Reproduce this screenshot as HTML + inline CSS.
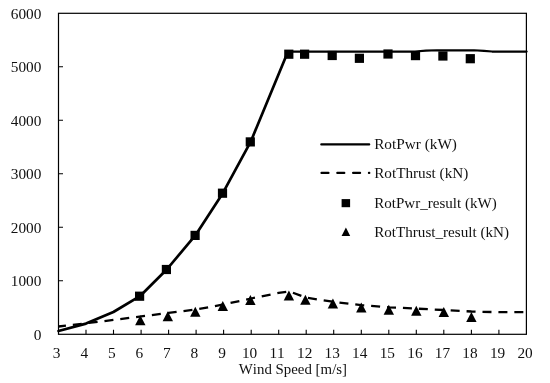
<!DOCTYPE html>
<html><head><meta charset="utf-8"><title>Chart</title>
<style>
html,body{margin:0;padding:0;background:#fff;}
svg{display:block;}
text{font-family:"Liberation Serif","Times New Roman",serif;font-size:14.3px;fill:#111;font-kerning:none;}
</style></head><body>
<svg width="550" height="383" viewBox="0 0 550 383">
<rect width="550" height="383" fill="#fff"/>
<rect x="58.5" y="13.3" width="467.9" height="321.0" fill="none" stroke="#000" stroke-width="1.2"/>
<path d="M86.0,334.3 v-4.5 M113.5,334.3 v-4.5 M141.1,334.3 v-4.5 M168.6,334.3 v-4.5 M196.1,334.3 v-4.5 M223.6,334.3 v-4.5 M251.2,334.3 v-4.5 M278.7,334.3 v-4.5 M306.2,334.3 v-4.5 M333.7,334.3 v-4.5 M361.3,334.3 v-4.5 M388.8,334.3 v-4.5 M416.3,334.3 v-4.5 M443.8,334.3 v-4.5 M471.4,334.3 v-4.5 M498.9,334.3 v-4.5 M58.5,280.8 h4.5 M58.5,227.3 h4.5 M58.5,173.8 h4.5 M58.5,120.3 h4.5 M58.5,66.8 h4.5" stroke="#000" stroke-width="1.1" fill="none"/>
<g>
<text x="52.88" y="357.7" textLength="7.7" lengthAdjust="spacingAndGlyphs">3</text>
<text x="80.43" y="357.7" textLength="7.7" lengthAdjust="spacingAndGlyphs">4</text>
<text x="107.98" y="357.7" textLength="7.7" lengthAdjust="spacingAndGlyphs">5</text>
<text x="135.53" y="357.7" textLength="7.7" lengthAdjust="spacingAndGlyphs">6</text>
<text x="163.09" y="357.7" textLength="7.7" lengthAdjust="spacingAndGlyphs">7</text>
<text x="190.64" y="357.7" textLength="7.7" lengthAdjust="spacingAndGlyphs">8</text>
<text x="218.19" y="357.7" textLength="7.7" lengthAdjust="spacingAndGlyphs">9</text>
<text x="241.92" y="357.7" textLength="15.3" lengthAdjust="spacingAndGlyphs">10</text>
<text x="269.47" y="357.7" textLength="15.3" lengthAdjust="spacingAndGlyphs">11</text>
<text x="297.03" y="357.7" textLength="15.3" lengthAdjust="spacingAndGlyphs">12</text>
<text x="324.58" y="357.7" textLength="15.3" lengthAdjust="spacingAndGlyphs">13</text>
<text x="352.13" y="357.7" textLength="15.3" lengthAdjust="spacingAndGlyphs">14</text>
<text x="379.69" y="357.7" textLength="15.3" lengthAdjust="spacingAndGlyphs">15</text>
<text x="407.24" y="357.7" textLength="15.3" lengthAdjust="spacingAndGlyphs">16</text>
<text x="434.79" y="357.7" textLength="15.3" lengthAdjust="spacingAndGlyphs">17</text>
<text x="462.34" y="357.7" textLength="15.3" lengthAdjust="spacingAndGlyphs">18</text>
<text x="489.90" y="357.7" textLength="15.3" lengthAdjust="spacingAndGlyphs">19</text>
<text x="517.45" y="357.7" textLength="15.3" lengthAdjust="spacingAndGlyphs">20</text>
</g>
<g>
<text x="33.75" y="339.6" textLength="7.7" lengthAdjust="spacingAndGlyphs">0</text>
<text x="10.80" y="286.1" textLength="30.6" lengthAdjust="spacingAndGlyphs">1000</text>
<text x="10.80" y="232.6" textLength="30.6" lengthAdjust="spacingAndGlyphs">2000</text>
<text x="10.80" y="179.1" textLength="30.6" lengthAdjust="spacingAndGlyphs">3000</text>
<text x="10.80" y="125.6" textLength="30.6" lengthAdjust="spacingAndGlyphs">4000</text>
<text x="10.80" y="72.1" textLength="30.6" lengthAdjust="spacingAndGlyphs">5000</text>
<text x="10.80" y="18.6" textLength="30.6" lengthAdjust="spacingAndGlyphs">6000</text>
</g>
<text x="238.80" y="373.7" textLength="108.2" lengthAdjust="spacingAndGlyphs">Wind Speed [m/s]</text>
<polyline points="58.5,326.5 86.0,323.3 113.5,319.9 141.1,316.4 168.6,312.9 196.1,309.5 223.6,304.4 251.2,298.5 278.7,292.9 289.7,291.5 306.2,297.7 333.7,301.9 361.3,305.2 388.8,307.3 416.3,308.6 443.8,310.0 471.4,311.5 498.9,312.2 526.4,312.2" fill="none" stroke="#000" stroke-width="2.3" stroke-dasharray="9 6.93" stroke-dashoffset="1.5"/>
<polyline points="58.5,331.0 86,323.6 113.4,312.0 139.9,296.2 166.7,269.5 195.3,235.4 222.8,193.2 250.6,141.9 288.0,51.5" fill="none" stroke="#000" stroke-width="2.7" stroke-linejoin="round" stroke-linecap="round"/>
<polyline points="288.0,51.5 415,51.5 426,50.7 437,50.25 474,50.25 484,50.9 492,51.5 526.6,51.5" fill="none" stroke="#000" stroke-width="2.25" stroke-linejoin="round" stroke-linecap="round"/>
<rect x="135.0" y="291.6" width="9.2" height="9.2" fill="#000"/>
<rect x="161.8" y="264.9" width="9.2" height="9.2" fill="#000"/>
<rect x="190.5" y="230.8" width="9.2" height="9.2" fill="#000"/>
<rect x="217.9" y="188.6" width="9.2" height="9.2" fill="#000"/>
<rect x="245.7" y="137.3" width="9.2" height="9.2" fill="#000"/>
<rect x="284.2" y="49.6" width="9.2" height="9.2" fill="#000"/>
<rect x="300.0" y="49.6" width="9.2" height="9.2" fill="#000"/>
<rect x="327.6" y="50.9" width="9.2" height="9.2" fill="#000"/>
<rect x="354.8" y="53.7" width="9.2" height="9.2" fill="#000"/>
<rect x="383.4" y="49.4" width="9.2" height="9.2" fill="#000"/>
<rect x="410.9" y="51.0" width="9.2" height="9.2" fill="#000"/>
<rect x="438.3" y="51.4" width="9.2" height="9.2" fill="#000"/>
<rect x="465.7" y="54.1" width="9.2" height="9.2" fill="#000"/>
<path d="M140.3,315.3 l5.2,10 h-10.4 z" fill="#000"/>
<path d="M167.8,311.2 l5.2,10 h-10.4 z" fill="#000"/>
<path d="M195.3,306.8 l5.2,10 h-10.4 z" fill="#000"/>
<path d="M222.8,301.0 l5.2,10 h-10.4 z" fill="#000"/>
<path d="M250.4,295.0 l5.2,10 h-10.4 z" fill="#000"/>
<path d="M288.9,290.6 l5.2,10 h-10.4 z" fill="#000"/>
<path d="M305.4,294.7 l5.2,10 h-10.4 z" fill="#000"/>
<path d="M332.9,298.5 l5.2,10 h-10.4 z" fill="#000"/>
<path d="M361.3,302.4 l5.2,10 h-10.4 z" fill="#000"/>
<path d="M388.8,304.7 l5.2,10 h-10.4 z" fill="#000"/>
<path d="M416.3,305.7 l5.2,10 h-10.4 z" fill="#000"/>
<path d="M443.8,306.9 l5.2,10 h-10.4 z" fill="#000"/>
<path d="M471.4,312.1 l5.2,10 h-10.4 z" fill="#000"/>
<path d="M321.3,144.4 H369.2" stroke="#000" stroke-width="2.2" stroke-linecap="round" fill="none"/>
<path d="M321.5,172.9 H369.3" stroke="#000" stroke-width="2.2" stroke-dasharray="7 8.8" stroke-linecap="round" fill="none"/>
<rect x="341.6" y="199.1" width="8.5" height="8.1" fill="#000"/>
<path d="M345.9,227.4 l4.3,8.5 h-8.6 z" fill="#000"/>
<text x="374.20" y="148.9" textLength="82.7" lengthAdjust="spacingAndGlyphs">RotPwr (kW)</text>
<text x="374.20" y="178.0" textLength="94.1" lengthAdjust="spacingAndGlyphs">RotThrust (kN)</text>
<text x="374.20" y="207.6" textLength="122.5" lengthAdjust="spacingAndGlyphs">RotPwr_result (kW)</text>
<text x="374.20" y="236.7" textLength="134.8" lengthAdjust="spacingAndGlyphs">RotThrust_result (kN)</text>
</svg></body></html>
